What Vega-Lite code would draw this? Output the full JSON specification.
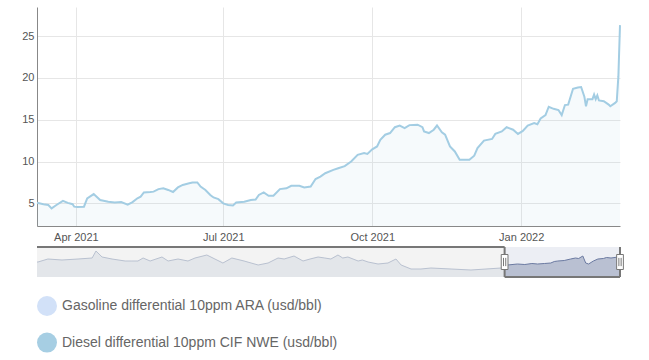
{
  "$schema": "https://vega.github.io/schema/vega-lite/v6.json",
  "padding": {"left": 21, "top": 7, "right": 5, "bottom": 0},
  "autosize": {"type": "pad"},
  "config": {
    "font": "Liberation Sans",
    "view": {"stroke": null},
    "axis": {"labelFont": "Liberation Sans", "labelFontSize": 11, "labelColor": "#555555", "domainColor": "#888888", "gridColor": "#e6e6e6", "ticks": false, "title": null}
  },
  "datasets": {
    "diesel": [
      {"date": "2021-03-08", "value": 5.07}, {"date": "2021-03-12", "value": 4.9}, {"date": "2021-03-15", "value": 4.8},
      {"date": "2021-03-17", "value": 4.4}, {"date": "2021-03-20", "value": 4.8}, {"date": "2021-03-24", "value": 5.3},
      {"date": "2021-03-27", "value": 5.05}, {"date": "2021-03-30", "value": 4.9}, {"date": "2021-03-31", "value": 4.6},
      {"date": "2021-04-02", "value": 4.55}, {"date": "2021-04-06", "value": 4.6}, {"date": "2021-04-08", "value": 5.6},
      {"date": "2021-04-12", "value": 6.1}, {"date": "2021-04-16", "value": 5.4}, {"date": "2021-04-21", "value": 5.2},
      {"date": "2021-04-25", "value": 5.1}, {"date": "2021-04-29", "value": 5.15}, {"date": "2021-05-03", "value": 4.85},
      {"date": "2021-05-06", "value": 5.15}, {"date": "2021-05-09", "value": 5.6}, {"date": "2021-05-11", "value": 5.8},
      {"date": "2021-05-13", "value": 6.3}, {"date": "2021-05-17", "value": 6.35}, {"date": "2021-05-19", "value": 6.4},
      {"date": "2021-05-22", "value": 6.7}, {"date": "2021-05-25", "value": 6.8}, {"date": "2021-05-28", "value": 6.6},
      {"date": "2021-05-31", "value": 6.35}, {"date": "2021-06-03", "value": 6.9}, {"date": "2021-06-06", "value": 7.2},
      {"date": "2021-06-10", "value": 7.4}, {"date": "2021-06-12", "value": 7.5}, {"date": "2021-06-15", "value": 7.5},
      {"date": "2021-06-17", "value": 7.0}, {"date": "2021-06-20", "value": 6.6}, {"date": "2021-06-23", "value": 6.0},
      {"date": "2021-06-25", "value": 5.7}, {"date": "2021-06-28", "value": 5.5}, {"date": "2021-07-01", "value": 5.0},
      {"date": "2021-07-04", "value": 4.8}, {"date": "2021-07-07", "value": 4.75}, {"date": "2021-07-09", "value": 5.1},
      {"date": "2021-07-14", "value": 5.2}, {"date": "2021-07-18", "value": 5.4}, {"date": "2021-07-21", "value": 5.45},
      {"date": "2021-07-23", "value": 6.0}, {"date": "2021-07-26", "value": 6.3}, {"date": "2021-07-29", "value": 5.9},
      {"date": "2021-08-01", "value": 5.9}, {"date": "2021-08-05", "value": 6.7}, {"date": "2021-08-09", "value": 6.8},
      {"date": "2021-08-12", "value": 7.1}, {"date": "2021-08-17", "value": 7.1}, {"date": "2021-08-20", "value": 6.9},
      {"date": "2021-08-24", "value": 7.0}, {"date": "2021-08-27", "value": 7.9}, {"date": "2021-08-30", "value": 8.2},
      {"date": "2021-09-02", "value": 8.6}, {"date": "2021-09-07", "value": 9.0}, {"date": "2021-09-10", "value": 9.2},
      {"date": "2021-09-14", "value": 9.45}, {"date": "2021-09-18", "value": 10.0}, {"date": "2021-09-22", "value": 10.8},
      {"date": "2021-09-26", "value": 11.0}, {"date": "2021-09-28", "value": 10.9}, {"date": "2021-10-01", "value": 11.45},
      {"date": "2021-10-04", "value": 11.8}, {"date": "2021-10-06", "value": 12.6}, {"date": "2021-10-09", "value": 13.2},
      {"date": "2021-10-12", "value": 13.4}, {"date": "2021-10-15", "value": 14.1}, {"date": "2021-10-18", "value": 14.3},
      {"date": "2021-10-21", "value": 14.0}, {"date": "2021-10-24", "value": 14.35}, {"date": "2021-10-29", "value": 14.4},
      {"date": "2021-11-01", "value": 14.1}, {"date": "2021-11-02", "value": 13.6}, {"date": "2021-11-05", "value": 13.4},
      {"date": "2021-11-08", "value": 13.8}, {"date": "2021-11-10", "value": 14.3}, {"date": "2021-11-13", "value": 13.5},
      {"date": "2021-11-15", "value": 13.2}, {"date": "2021-11-18", "value": 11.8}, {"date": "2021-11-21", "value": 11.2},
      {"date": "2021-11-24", "value": 10.2}, {"date": "2021-11-30", "value": 10.2}, {"date": "2021-12-03", "value": 10.7},
      {"date": "2021-12-05", "value": 11.6}, {"date": "2021-12-09", "value": 12.5}, {"date": "2021-12-14", "value": 12.7},
      {"date": "2021-12-16", "value": 13.3}, {"date": "2021-12-20", "value": 13.6}, {"date": "2021-12-23", "value": 14.1},
      {"date": "2021-12-27", "value": 13.8}, {"date": "2021-12-30", "value": 13.3}, {"date": "2022-01-02", "value": 13.65},
      {"date": "2022-01-05", "value": 14.3}, {"date": "2022-01-09", "value": 14.6}, {"date": "2022-01-11", "value": 14.45},
      {"date": "2022-01-13", "value": 15.15}, {"date": "2022-01-16", "value": 15.55}, {"date": "2022-01-18", "value": 16.55},
      {"date": "2022-01-21", "value": 16.3}, {"date": "2022-01-24", "value": 16.15}, {"date": "2022-01-26", "value": 15.55},
      {"date": "2022-01-28", "value": 16.75}, {"date": "2022-01-30", "value": 16.8}, {"date": "2022-02-02", "value": 18.7},
      {"date": "2022-02-05", "value": 18.85}, {"date": "2022-02-07", "value": 18.9}, {"date": "2022-02-09", "value": 17.75},
      {"date": "2022-02-10", "value": 16.6}, {"date": "2022-02-11", "value": 17.45}, {"date": "2022-02-14", "value": 17.45},
      {"date": "2022-02-15", "value": 18.0}, {"date": "2022-02-16", "value": 17.45}, {"date": "2022-02-17", "value": 17.9},
      {"date": "2022-02-18", "value": 17.3}, {"date": "2022-02-21", "value": 17.2}, {"date": "2022-02-24", "value": 16.8},
      {"date": "2022-02-25", "value": 16.6}, {"date": "2022-02-28", "value": 17.0}, {"date": "2022-03-01", "value": 17.2},
      {"date": "2022-03-02", "value": 20.2}, {"date": "2022-03-03", "value": 26.3}
    ],
    "nav": [
      {"date": "2017-03-10", "v": 15}, {"date": "2017-03-13", "v": 15}, {"date": "2017-04-13", "v": 18},
      {"date": "2017-05-27", "v": 17}, {"date": "2017-07-16", "v": 18}, {"date": "2017-08-29", "v": 19},
      {"date": "2017-09-10", "v": 26}, {"date": "2017-09-29", "v": 20}, {"date": "2017-10-30", "v": 18},
      {"date": "2017-12-10", "v": 16}, {"date": "2017-12-31", "v": 16}, {"date": "2018-01-19", "v": 16},
      {"date": "2018-02-04", "v": 19}, {"date": "2018-02-26", "v": 16}, {"date": "2018-04-04", "v": 20},
      {"date": "2018-04-23", "v": 16}, {"date": "2018-05-24", "v": 18}, {"date": "2018-06-24", "v": 16},
      {"date": "2018-07-16", "v": 19}, {"date": "2018-08-22", "v": 22}, {"date": "2018-09-16", "v": 18},
      {"date": "2018-10-11", "v": 14}, {"date": "2018-11-08", "v": 19}, {"date": "2018-12-16", "v": 16},
      {"date": "2019-01-29", "v": 12}, {"date": "2019-03-01", "v": 14}, {"date": "2019-04-01", "v": 19},
      {"date": "2019-04-20", "v": 18}, {"date": "2019-05-21", "v": 21}, {"date": "2019-06-18", "v": 16},
      {"date": "2019-07-10", "v": 18}, {"date": "2019-08-04", "v": 20}, {"date": "2019-08-25", "v": 19},
      {"date": "2019-09-13", "v": 18}, {"date": "2019-10-05", "v": 22}, {"date": "2019-10-20", "v": 19},
      {"date": "2019-11-05", "v": 20}, {"date": "2019-12-07", "v": 16}, {"date": "2019-12-20", "v": 17},
      {"date": "2020-01-07", "v": 15}, {"date": "2020-02-07", "v": 13}, {"date": "2020-03-09", "v": 14},
      {"date": "2020-04-03", "v": 18}, {"date": "2020-04-19", "v": 12}, {"date": "2020-05-20", "v": 8},
      {"date": "2020-06-20", "v": 8}, {"date": "2020-07-21", "v": 9}, {"date": "2020-09-22", "v": 8},
      {"date": "2020-11-23", "v": 7}, {"date": "2021-02-25", "v": 9}, {"date": "2021-03-08", "v": 11},
      {"date": "2021-03-17", "v": 12}, {"date": "2021-04-17", "v": 13}, {"date": "2021-05-10", "v": 12.5},
      {"date": "2021-06-01", "v": 13.5}, {"date": "2021-06-19", "v": 13}, {"date": "2021-07-10", "v": 13.5},
      {"date": "2021-07-30", "v": 14}, {"date": "2021-08-10", "v": 15.5}, {"date": "2021-08-21", "v": 16},
      {"date": "2021-09-10", "v": 16.5}, {"date": "2021-09-30", "v": 18}, {"date": "2021-10-15", "v": 19},
      {"date": "2021-10-25", "v": 18.5}, {"date": "2021-11-07", "v": 21}, {"date": "2021-11-16", "v": 14},
      {"date": "2021-11-25", "v": 13}, {"date": "2021-12-10", "v": 16}, {"date": "2021-12-24", "v": 18},
      {"date": "2022-01-10", "v": 18.5}, {"date": "2022-01-20", "v": 19.5}, {"date": "2022-02-03", "v": 19},
      {"date": "2022-02-25", "v": 20}, {"date": "2022-03-03", "v": 20}
    ],
    "range": [{"first": "2017-03-10", "start": "2021-03-08", "end": "2022-03-03"}],
    "handles": [{"date": "2021-03-08"}, {"date": "2022-03-03"}]
  },
  "spacing": 21,
  "bounds": "flush",
  "resolve": {"scale": {"x": "independent", "y": "independent", "color": "independent"}, "legend": {"color": "independent"}},
  "vconcat": [
    {
      "width": 583,
      "height": 219,
      "data": {"name": "diesel"},
      "encoding": {
        "x": {"field": "date", "type": "temporal",
          "axis": {"format": "%b %Y", "labelPadding": 5, "labelFlush": false, "labelOverlap": false,
            "values": [{"year": 2021, "month": 4, "date": 1}, {"year": 2021, "month": 7, "date": 1}, {"year": 2021, "month": 10, "date": 1}, {"year": 2022, "month": 1, "date": 1}]}},
        "y": {"field": "value", "type": "quantitative",
          "scale": {"domain": [2.29, 28.47], "nice": false, "zero": false},
          "axis": {"values": [5, 10, 15, 20, 25], "labelPadding": 3}}
      },
      "layer": [
        {
          "mark": {"type": "area", "fillOpacity": 0.1, "clip": true},
          "encoding": {
            "color": {"datum": "Diesel differential 10ppm CIF NWE (usd/bbl)", "type": "nominal",
              "scale": {"domain": ["Gasoline differential 10ppm ARA (usd/bbl)", "Diesel differential 10ppm CIF NWE (usd/bbl)"], "range": ["#d2e1f8", "#a6cee3"]},
              "legend": {"orient": "none", "legendX": 0, "legendY": 289, "title": null, "padding": 0,
                "symbolType": "circle", "symbolSize": 400, "symbolStrokeWidth": 0, "rowPadding": 16.6,
                "labelFont": "Liberation Sans", "labelFontSize": 14, "labelColor": "#666666", "labelOffset": 5, "labelLimit": 600,
                "direction": "vertical",
                "encode": {"symbols": {"update": {"fillOpacity": {"value": 1}, "opacity": {"value": 1}}}}}}
          }
        },
        {
          "mark": {"type": "line", "color": "#a3cde3", "strokeWidth": 2}
        }
      ]
    },
    {
      "width": 583,
      "height": 30,
      "view": {"fill": "#f3f3f3", "stroke": null},
      "layer": [
        {
          "data": {"name": "nav"},
          "mark": {"type": "area", "color": "#dcdfe5", "line": {"color": "#b9c1d0", "strokeWidth": 1}},
          "encoding": {
            "x": {"field": "date", "type": "temporal", "axis": null},
            "y": {"field": "v", "type": "quantitative", "axis": null, "scale": {"domain": [0, 30], "nice": false}}
          }
        },
        {
          "data": {"name": "range"},
          "mark": {"type": "rect", "color": "#eceef4"},
          "encoding": {"x": {"field": "start", "type": "temporal"}, "x2": {"field": "end"}}
        },
        {
          "data": {"name": "nav"},
          "transform": [{"filter": "time(datum.date) >= utc(2021, 2, 8)"}],
          "mark": {"type": "area", "color": "#a4acc3", "line": {"color": "#6b7aa1", "strokeWidth": 1}},
          "encoding": {
            "x": {"field": "date", "type": "temporal"},
            "y": {"field": "v", "type": "quantitative"}
          }
        },
        {
          "data": {"name": "range"},
          "mark": {"type": "rule", "color": "#777777", "strokeWidth": 2},
          "encoding": {"x": {"field": "first", "type": "temporal"}, "x2": {"field": "start"}, "y": {"datum": 30}}
        },
        {
          "data": {"name": "range"},
          "mark": {"type": "rule", "color": "#777777", "strokeWidth": 2},
          "encoding": {"x": {"field": "start", "type": "temporal"}, "y": {"datum": 30}, "y2": {"datum": 0}}
        },
        {
          "data": {"name": "range"},
          "mark": {"type": "rule", "color": "#777777", "strokeWidth": 2},
          "encoding": {"x": {"field": "start", "type": "temporal"}, "x2": {"field": "end"}, "y": {"datum": 0}}
        },
        {
          "data": {"name": "range"},
          "mark": {"type": "rule", "color": "#777777", "strokeWidth": 2},
          "encoding": {"x": {"field": "end", "type": "temporal"}, "y": {"datum": 30}, "y2": {"datum": 0}}
        },
        {
          "data": {"name": "handles"},
          "mark": {"type": "point", "shape": "M-0.45,-1L0.45,-1L0.45,1L-0.45,1Z M-0.15,-0.55L-0.15,0.55 M0.15,-0.55L0.15,0.55", "size": 225, "filled": true, "fill": "#ffffff", "stroke": "#777777", "strokeWidth": 1, "opacity": 1},
          "encoding": {"x": {"field": "date", "type": "temporal"}, "y": {"datum": 15}}
        }
      ]
    }
  ]
}
